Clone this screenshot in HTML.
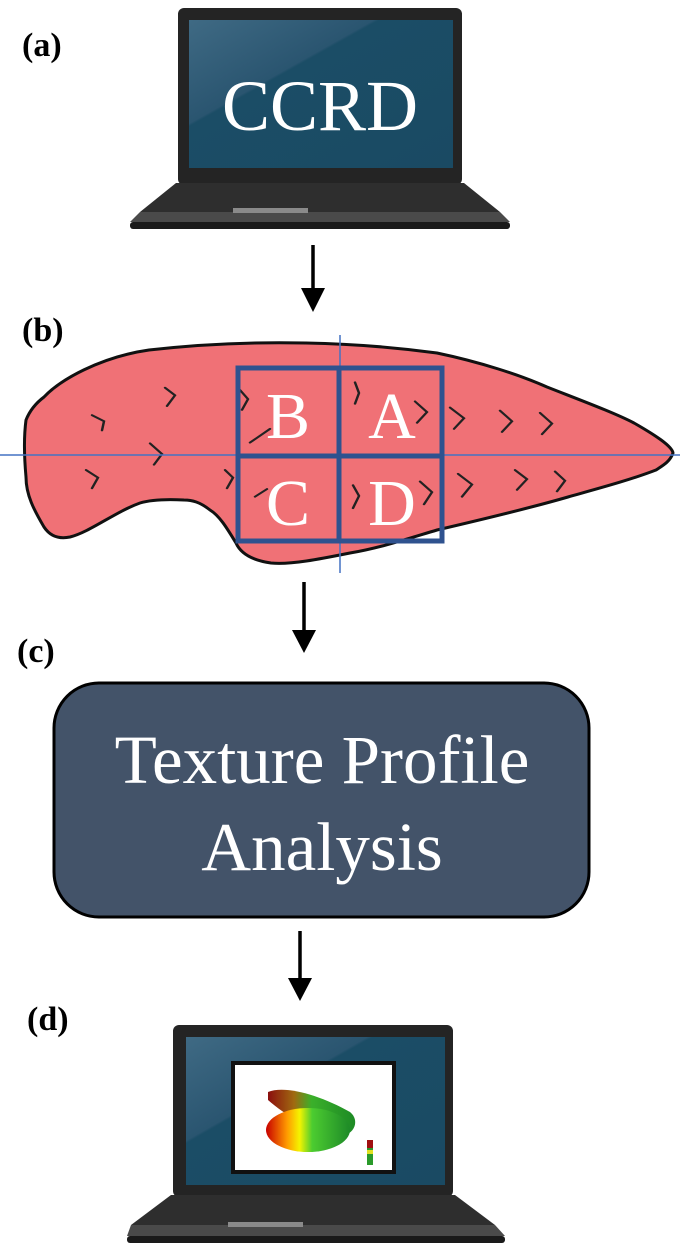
<!DOCTYPE html>
<html><head><meta charset="utf-8"><style>
html,body{margin:0;padding:0;background:#fff;}
svg{display:block;}
</style></head><body>
<svg width="685" height="1253" viewBox="0 0 685 1253" xmlns="http://www.w3.org/2000/svg">
<defs>
<linearGradient id="scr" x1="0" y1="0" x2="1" y2="1">
<stop offset="0" stop-color="#3f6a84"/><stop offset="0.35" stop-color="#2a5570"/><stop offset="0.36" stop-color="#1b4d66"/><stop offset="1" stop-color="#1a4a63"/>
</linearGradient>
<linearGradient id="wing1" x1="0" y1="0" x2="1" y2="0">
<stop offset="0" stop-color="#8b0e0e"/><stop offset="0.3" stop-color="#a06a10"/><stop offset="0.5" stop-color="#3bb02a"/><stop offset="1" stop-color="#1d8a25"/>
</linearGradient>
<linearGradient id="wing2" x1="0" y1="0" x2="1" y2="0">
<stop offset="0" stop-color="#c80000"/><stop offset="0.25" stop-color="#ff9a00"/><stop offset="0.4" stop-color="#f4f400"/><stop offset="0.55" stop-color="#4ccc30"/><stop offset="1" stop-color="#1e8a28"/>
</linearGradient>
</defs>

<g font-family="Liberation Serif, serif" font-weight="bold" font-size="34" fill="#000">
<text x="22" y="56">(a)</text>
<text x="22" y="341">(b)</text>
<text x="17" y="662">(c)</text>
<text x="27" y="1030">(d)</text>
</g>

<!-- Laptop (a) -->
<rect x="178" y="8" width="284" height="177" rx="6" fill="#242424"/>
<rect x="189" y="20" width="264" height="148" fill="url(#scr)"/>
<polygon points="176,183 464,183 500,212 140,212" fill="#2e2e2e"/>
<polygon points="140,212 500,212 510,222 130,222" fill="#4a4a4a"/>
<rect x="130" y="222" width="380" height="7" rx="3" fill="#1a1a1a"/>
<rect x="233" y="208" width="75" height="5" fill="#8a8a8a"/>
<text x="320" y="130" font-family="Liberation Serif, serif" font-size="72" fill="#fff" text-anchor="middle">CCRD</text>

<line x1="313" y1="245" x2="313" y2="290" stroke="#000" stroke-width="3.5"/>
<polygon points="301,288 325,288 313,312" fill="#000"/>

<!-- Fish -->
<path d="M44,397 C60,380 100,357 149,350 C210,343 260,342 306,343 C360,344 400,348 437,353 C480,362 520,375 547,387 C580,400 615,413 634,423 C655,435 672,446 673,453 C670,462 662,466 656,470 C630,480 600,488 568,497 C530,508 480,520 437,530 C410,538 380,548 350,553 C320,559 290,565 271,563 C250,560 240,552 236,543 C228,530 220,516 210,510 C200,502 192,500 184,500 C165,499 150,500 140,503 C115,512 90,532 70,537 C55,540 48,533 44,527 C34,510 26,495 26,477 C24,455 24,435 26,420 C30,410 36,403 44,397 Z" fill="#f07176" stroke="#111" stroke-width="3"/>
<g fill="none" stroke="#222" stroke-width="2.5" stroke-linecap="round" transform="translate(0,310) scale(1,0.762) translate(0,-310)">
<path d="M92,448 l12,8 -2,12"/><path d="M165,412 l10,10 -8,14"/><path d="M150,485 l12,14 -8,14"/>
<path d="M86,520 l12,10 -6,14"/><path d="M225,520 l8,10 -6,14"/><path d="M240,415 l8,12 -6,14"/>
<path d="M355,405 l4,14 -4,14"/><path d="M415,430 l12,14 -10,14"/><path d="M450,438 l14,14 -10,14"/>
<path d="M500,442 l12,14 -10,14"/><path d="M540,445 l12,14 -10,14"/>
<path d="M420,535 l12,14 -8,16"/><path d="M458,525 l14,14 -10,16"/><path d="M515,520 l12,12 -10,14"/><path d="M555,522 l10,12 -8,14"/>
<path d="M353,540 l6,14 -6,16"/><path d="M255,555 l12,-10"/><path d="M250,484 l20,-18"/>
</g>
<line x1="0" y1="455" x2="680" y2="455" stroke="#4472c4" stroke-width="1.5"/>
<line x1="340" y1="335" x2="340" y2="573" stroke="#4472c4" stroke-width="1.5"/>
<g fill="none" stroke="#2f528f" stroke-width="5">
<rect x="238" y="368" width="204" height="173"/>
<line x1="339" y1="368" x2="339" y2="541"/>
<line x1="238" y1="456" x2="442" y2="456"/>
</g>
<g font-family="Liberation Serif, serif" font-size="66" fill="#fff" text-anchor="middle">
<text x="288" y="438">B</text>
<text x="392" y="438">A</text>
<text x="288" y="525">C</text>
<text x="392" y="525">D</text>
</g>

<line x1="304" y1="582" x2="304" y2="632" stroke="#000" stroke-width="3.5"/>
<polygon points="292,630 316,630 304,653" fill="#000"/>

<rect x="54" y="683" width="535" height="234" rx="45" fill="#435369" stroke="#000" stroke-width="3"/>
<g font-family="Liberation Serif, serif" font-size="69" fill="#fff" text-anchor="middle">
<text x="322" y="783">Texture Profile</text>
<text x="322" y="870">Analysis</text>
</g>

<line x1="300" y1="931" x2="300" y2="980" stroke="#000" stroke-width="3.5"/>
<polygon points="288,978 312,978 300,1001" fill="#000"/>

<!-- Laptop (d) -->
<rect x="173" y="1025" width="280" height="172" rx="6" fill="#242424"/>
<rect x="186" y="1037" width="259" height="148" fill="url(#scr)"/>
<rect x="231" y="1061" width="165" height="113" fill="#111"/>
<rect x="235" y="1065" width="157" height="105" fill="#fff"/>
<path d="M268,1092 C285,1085 320,1095 350,1112 C360,1120 355,1135 340,1136 C315,1134 285,1115 268,1100 Z" fill="url(#wing1)"/>
<ellipse cx="308" cy="1130" rx="42" ry="22" fill="url(#wing2)"/>
<rect x="367" y="1140" width="6" height="25" fill="#2a9a2a"/>
<rect x="367" y="1140" width="6" height="8" fill="#a01010"/>
<rect x="367" y="1150" width="6" height="4" fill="#e0e020"/>
<polygon points="171,1195 455,1195 495,1225 131,1225" fill="#2e2e2e"/>
<polygon points="131,1225 495,1225 505,1236 127,1236" fill="#4a4a4a"/>
<rect x="127" y="1236" width="378" height="7" rx="3" fill="#1a1a1a"/>
<rect x="228" y="1222" width="75" height="5" fill="#8a8a8a"/>
</svg>
</body></html>
